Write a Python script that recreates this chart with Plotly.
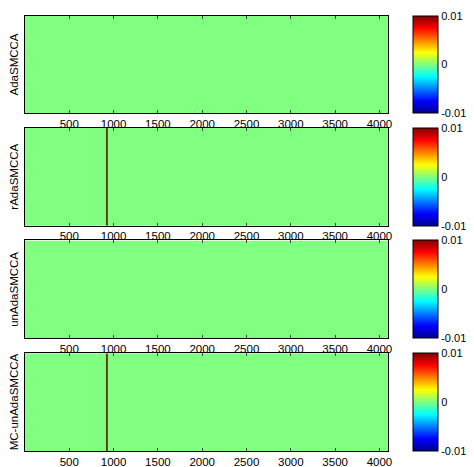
import plotly.graph_objects as go

n_features = 4096
methods = ["AdaSMCCA", "rAdaSMCCA", "unAdaSMCCA", "MC-unAdaSMCCA"]
# non-zero weights per method: (feature index, value)
spikes = {"AdaSMCCA": [], "rAdaSMCCA": [(925, 0.01)],
          "unAdaSMCCA": [], "MC-unAdaSMCCA": [(925, 0.01)]}
x_ticks = [500, 1000, 1500, 2000, 2500, 3000, 3500, 4000]
cbar_ticks = [-0.01, 0, 0.01]

jet = [[0, "rgb(0,0,143)"], [0.125, "rgb(0,0,255)"], [0.375, "rgb(0,255,255)"],
       [0.625, "rgb(255,255,0)"], [0.875, "rgb(255,0,0)"], [1, "rgb(128,0,0)"]]

domains = [(0.777, 1.0), (0.518, 0.743), (0.259, 0.484), (0.0, 0.225)]
font = dict(family="Liberation Sans, Arial", size=11.5, color="black")

fig = go.Figure()
for i, m in enumerate(methods):
    z = [0.0] * n_features
    for idx, v in spikes[m]:
        z[idx] = v
    k = "" if i == 0 else str(i + 1)
    lo, hi = domains[i]
    fig.add_heatmap(z=[z], x0=1, dx=1, xaxis="x" + k, yaxis="y" + k,
                    coloraxis="coloraxis" + k)
    # a single feature is narrower than a pixel, so draw spikes as lines too
    for idx, v in spikes[m]:
        fig.add_scatter(x=[idx, idx], y=[-0.5, 0.5], mode="lines", xaxis="x" + k, yaxis="y" + k,
                        line=dict(color="rgb(100,60,25)", width=2), showlegend=False,
                        hoverinfo="skip")
    fig.layout["coloraxis" + k] = dict(
        colorscale=jet, cmin=-0.01, cmax=0.01,
        colorbar=dict(x=1.04, xanchor="left", y=(lo + hi) / 2, len=hi - lo, ypad=0,
                      thickness=25, tickvals=cbar_ticks, ticktext=["-0.01", "0", "0.01"],
                      outlinecolor="black", outlinewidth=1, ticks="",
                      tickfont=dict(family=font["family"], size=11, color="black")))
    fig.layout["xaxis" + k] = dict(domain=[0, 1], anchor="y" + k, range=[0.5, n_features + 0.5],
                                   tickvals=x_ticks, ticks="inside", ticklen=3, mirror="ticks",
                                   showline=True, linecolor="black", linewidth=1,
                                   showgrid=False, zeroline=False, tickfont=font,
                                   automargin=False)
    fig.layout["yaxis" + k] = dict(domain=[lo, hi], anchor="x" + k, showticklabels=False,
                                   range=[-0.5, 0.5], automargin=False,
                                   showline=True, mirror=True, linecolor="black",
                                   showgrid=False, zeroline=False,
                                   title=dict(text=m, font=font, standoff=2))

fig.update_layout(width=474, height=467, margin=dict(l=17, r=78, t=8, b=24),
                  paper_bgcolor="white", plot_bgcolor="white", font=font)
fig.write_html("out.html")
